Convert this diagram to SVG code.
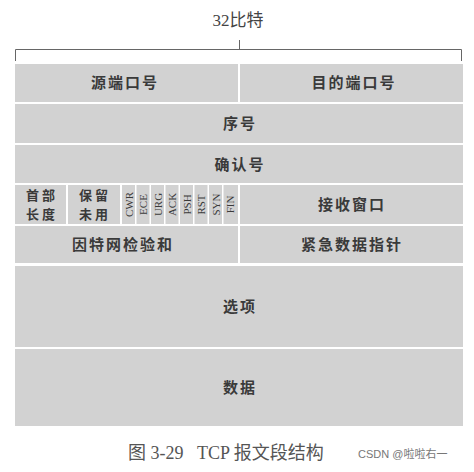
<svg xmlns="http://www.w3.org/2000/svg" width="474" height="472" viewBox="0 0 474 472">
<style>
.cell{fill:#d2d2d2;}
.t{font-family:"Noto Sans CJK SC","Noto Sans CJK JP",sans-serif;font-size:15px;font-weight:bold;fill:#3a3a3a;text-anchor:middle;letter-spacing:2px;}
.s{font-size:13px;letter-spacing:3px;}
.f{font-family:"Liberation Serif",serif;font-size:11px;fill:#3a3a3a;text-anchor:middle;}
.br{stroke:#666;stroke-width:1;fill:none;}
</style>
<rect width="474" height="472" fill="#ffffff"/>
<g id="title">
<text x="238" y="26" style="font-family:'Liberation Serif','Noto Sans CJK SC',serif;font-size:17px;fill:#444;text-anchor:middle">32比特</text>
</g>
<g id="connectors">
<path class="br" d="M15.5 61 V49.5 H461.5 V61 M239.5 49.5 V40"/>
</g>
<g id="srcport"><rect class="cell" x="15" y="64" width="223" height="38"/><text class="t" x="125" y="88">源端口号</text></g>
<g id="dstport"><rect class="cell" x="240" y="64" width="223" height="38"/><text class="t" x="354" y="88">目的端口号</text></g>
<g id="seq"><rect class="cell" x="15" y="104" width="448" height="39"/><text class="t" x="240" y="129">序号</text></g>
<g id="ack"><rect class="cell" x="15" y="145" width="448" height="38"/><text class="t" x="240" y="170">确认号</text></g>
<g id="hdrlen"><rect class="cell" x="15" y="185" width="51" height="39"/><text class="t s" x="42" y="200">首部<tspan x="42" dy="19">长度</tspan></text></g>
<g id="reserved"><rect class="cell" x="68" y="185" width="52" height="39"/><text class="t s" x="95" y="200">保留<tspan x="95" dy="19">未用</tspan></text></g>
<g id="flags">
<rect class="cell" x="122" y="185" width="13" height="39"/>
<rect class="cell" x="136.5" y="185" width="13" height="39"/>
<rect class="cell" x="151" y="185" width="13" height="39"/>
<rect class="cell" x="165.5" y="185" width="13" height="39"/>
<rect class="cell" x="180" y="185" width="13" height="39"/>
<rect class="cell" x="194.5" y="185" width="13" height="39"/>
<rect class="cell" x="209" y="185" width="13" height="39"/>
<rect class="cell" x="223.5" y="185" width="14.5" height="39"/>
<text class="f" transform="translate(132.5,204.5) rotate(-90)">CWR</text>
<text class="f" transform="translate(147,204.5) rotate(-90)">ECE</text>
<text class="f" transform="translate(161.5,204.5) rotate(-90)">URG</text>
<text class="f" transform="translate(176,204.5) rotate(-90)">ACK</text>
<text class="f" transform="translate(190.5,204.5) rotate(-90)">PSH</text>
<text class="f" transform="translate(205,204.5) rotate(-90)">RST</text>
<text class="f" transform="translate(219.5,204.5) rotate(-90)">SYN</text>
<text class="f" transform="translate(234,204.5) rotate(-90)">FIN</text>
</g>
<g id="window"><rect class="cell" x="240" y="185" width="223" height="39"/><text class="t" x="352" y="210">接收窗口</text></g>
<g id="checksum"><rect class="cell" x="15" y="226" width="223" height="37"/><text class="t" x="123" y="250">因特网检验和</text></g>
<g id="urgent"><rect class="cell" x="240" y="226" width="223" height="37"/><text class="t" x="352" y="250">紧急数据指针</text></g>
<g id="options"><rect class="cell" x="15" y="266" width="448" height="81"/><text class="t" x="240" y="312">选项</text></g>
<g id="data"><rect class="cell" x="15" y="349" width="448" height="77"/><text class="t" x="240" y="393">数据</text></g>
<g id="caption">
<text x="128" y="459" style="font-family:'Liberation Serif','Noto Sans CJK SC',serif;font-size:18px;fill:#555" xml:space="preserve">图 3-29   TCP 报文段结构</text>
<text x="358" y="458" style="font-family:'Liberation Sans','Noto Sans CJK SC',sans-serif;font-size:11px;fill:#777">CSDN @啦啦右一</text>
</g>
</svg>
